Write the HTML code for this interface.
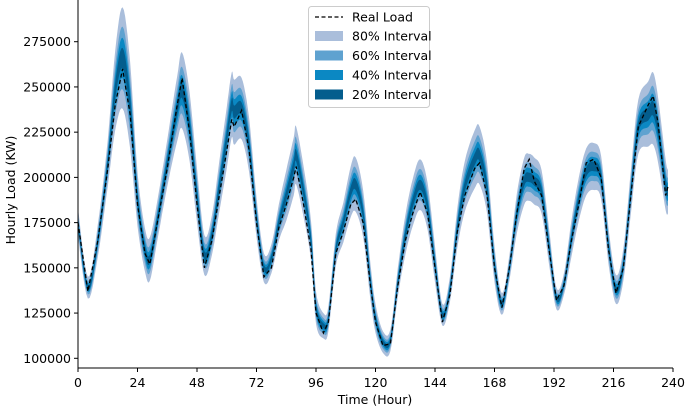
<!DOCTYPE html>
<html><head><meta charset="utf-8"><style>
body{margin:0;background:#fff}
svg{font-family:"DejaVu Sans","Liberation Sans",sans-serif}
</style></head><body>
<svg id="chart" width="685" height="409" viewBox="0 0 685 409" xmlns="http://www.w3.org/2000/svg">
<g id="bands"></g>
<g id="axes"></g>
<g id="legend"></g>
</svg>
<script>
const hours  = [0,4,8,12,15,18,21,24,27,29,32,36,40,42,45,48,51,54,57,60,62,63,66,69,72,75,78,81,84,87,88,91,94,96,99,101,104,107,110,112,115,118,120,123,126,129,132,135,138,141,144,147,150,153,156,160,162,165,168,171,174,177,180,182,184,187,190,193,196,199,202,205,208,211,214,217,220,223,226,230,232,234,237,238];
const realLoad = [175000,137000,165000,205000,240000,260000,235000,185000,158000,152000,175000,205000,240000,255000,225000,185000,150000,165000,190000,215000,232000,228000,237000,215000,175000,145000,150000,172000,185000,200000,206000,185000,160000,125000,114000,120000,158000,170000,185000,188000,175000,140000,120000,107000,108000,140000,165000,180000,192000,180000,150000,120000,135000,170000,190000,205000,208000,190000,150000,128000,150000,180000,205000,210000,198000,190000,160000,132000,140000,165000,185000,208000,210000,200000,160000,136000,150000,190000,228000,240000,245000,230000,190000,195000];
const median = [175000,139000,165000,208000,248000,266000,240000,188000,160000,155000,176000,208000,238000,248000,228000,190000,157000,168000,195000,222000,240000,236000,238000,218000,178000,150000,155000,175000,190000,206000,212000,192000,165000,128000,118000,122000,160000,175000,192000,196000,180000,142000,122000,109000,110000,142000,168000,186000,196000,184000,152000,124000,138000,172000,195000,210000,212000,194000,152000,130000,150000,180000,198000,200000,198000,192000,162000,133000,141000,166000,188000,203000,206000,200000,162000,138000,152000,192000,228000,235000,238000,226000,196000,192000];
const spread = [8000,6000,9000,13000,22000,28000,24000,15000,12000,12000,11000,13000,18000,21000,19000,15000,11000,11000,14000,17000,18000,18000,17000,15000,11000,8000,8000,10000,14000,16000,16000,14000,11000,9000,7000,7000,9000,11000,14000,15000,13000,10000,8000,6000,6000,8000,11000,13000,14000,13000,10000,6000,7000,11000,14000,16000,16000,14000,10000,6000,7000,11000,13000,13000,13000,12000,10000,6000,6000,10000,12000,13000,13000,12000,10000,8000,9000,12000,15000,18000,20000,18000,14000,12000];
const intervals = ["80% Interval","60% Interval","40% Interval","20% Interval"];
const factors = [1.0,0.62,0.4,0.2];
const xTicks = [0,24,48,72,96,120,144,168,192,216,240];
const yTicks = [100000,125000,150000,175000,200000,225000,250000,275000];
const colors = ["#aabedb","#5fa2d0","#0b88c3","#045d8d"];

const NS="http://www.w3.org/2000/svg";
const X0=78, X1=673, Ybase=358.3, Ytop=41.7;
const xs=h=>X0+(h/240)*(X1-X0);
const ys=v=>Ybase-(v-100000)/175000*(Ybase-Ytop);
function mk(tag,attrs,parent){const e=document.createElementNS(NS,tag);for(const k in attrs)e.setAttribute(k,attrs[k]);parent.appendChild(e);return e;}
// Catmull-Rom smoothing of pixel points
function smooth(pts){
  const out=[];
  for(let i=0;i<pts.length-1;i++){
    const p0=pts[Math.max(0,i-1)],p1=pts[i],p2=pts[i+1],p3=pts[Math.min(pts.length-1,i+2)];
    for(let s=0;s<6;s++){const t=s/6,t2=t*t,t3=t2*t;
      const f=(a,b,c,d)=>0.5*((2*b)+(-a+c)*t+(2*a-5*b+4*c-d)*t2+(-a+3*b-3*c+d)*t3);
      out.push([f(p0[0],p1[0],p2[0],p3[0]),f(p0[1],p1[1],p2[1],p3[1])]);}
  }
  out.push(pts[pts.length-1]);return out;
}
const fmt=a=>a.map(p=>p[0].toFixed(1)+","+p[1].toFixed(1));

const bands=document.getElementById('bands');
intervals.forEach((name,i)=>{
  const up=smooth(hours.map((h,j)=>[xs(h),ys(median[j]+spread[j]*factors[i])]));
  const dn=smooth(hours.map((h,j)=>[xs(h),ys(median[j]-spread[j]*factors[i])])).reverse();
  const p=mk('polygon',{points:fmt(up).concat(fmt(dn)).join(' '),fill:colors[i]},bands);
  
  
});
const real=mk('polyline',{points:fmt(hours.map((h,j)=>[xs(h),ys(realLoad[j])])).join(' '),fill:'none',stroke:'#000','stroke-width':1.3,'stroke-dasharray':'4,2.5'},bands);



const ax=document.getElementById('axes');
const yl=mk('line',{x1:X0,y1:0,x2:X0,y2:368,stroke:'#000','stroke-width':1},ax);


const xl=mk('line',{x1:X0,y1:368,x2:X1,y2:368,stroke:'#000','stroke-width':1},ax);


xTicks.forEach(t=>{
  mk('line',{x1:xs(t),y1:368,x2:xs(t),y2:372,stroke:'#000'},ax);
  const tx=mk('text',{x:xs(t),y:387,'text-anchor':'middle','font-size':12.5},ax);
  tx.textContent=t;
  
  
});
yTicks.forEach(t=>{
  mk('line',{x1:X0-4,y1:ys(t),x2:X0,y2:ys(t),stroke:'#000'},ax);
  const tx=mk('text',{x:X0-7,y:ys(t)+4.5,'text-anchor':'end','font-size':12.5},ax);
  tx.textContent=t;
  
  
});
const xt=mk('text',{x:375,y:404,'text-anchor':'middle','font-size':12.5},ax);
xt.textContent='Time (Hour)';


const yt=mk('text',{x:0,y:0,'text-anchor':'middle','font-size':12.5,transform:'translate(15,190) rotate(-90)'},ax);
yt.textContent='Hourly Load (KW)';



const lg=document.getElementById('legend');
const box=mk('rect',{x:308.5,y:6.5,width:121,height:101,rx:3,fill:'#fff','fill-opacity':0.85,stroke:'#ccc'},lg);


const e0=mk('line',{x1:315,y1:17,x2:343,y2:17,stroke:'#000','stroke-width':1.3,'stroke-dasharray':'4,2.5'},lg);


const t0=mk('text',{x:352,y:21.5,'font-size':12.5},lg);
t0.textContent='Real Load';


intervals.forEach((name,i)=>{
  const y=31+i*19.5;
  const r=mk('rect',{x:315,y:y,width:28,height:10,fill:colors[i]},lg);
  
  
  const t=mk('text',{x:352,y:y+9.5,'font-size':12.5},lg);
  t.textContent=name;
  
  
});
</script>
</body></html>
